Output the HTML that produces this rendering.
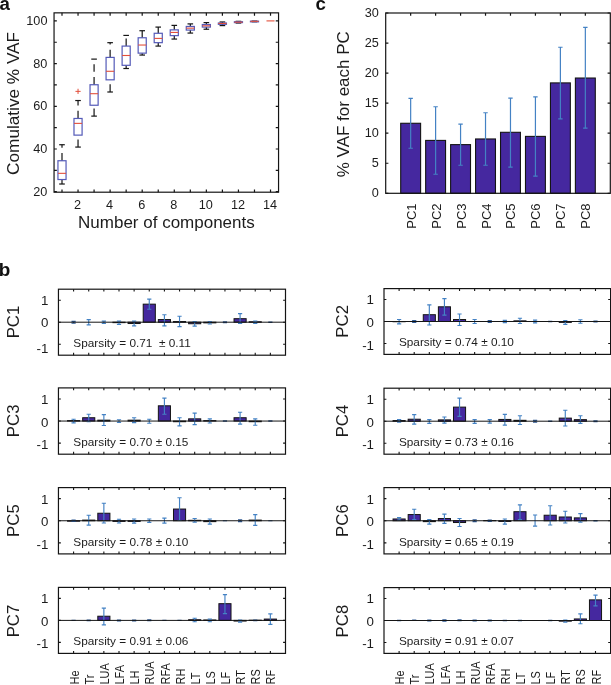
<!DOCTYPE html>
<html lang="en">
<head>
<meta charset="utf-8">
<title>PCA figure</title>
<style>
html,body{margin:0;padding:0;background:#fff;}
body{width:611px;height:685px;overflow:hidden;}
svg{display:block;font-family:"Liberation Sans", Arial, Helvetica, sans-serif;fill:#1c1c1c;}
</style>
</head>
<body>
<svg width="611" height="685" viewBox="0 0 611 685">
<rect width="611" height="685" fill="#fff"/>
<g id="panel-a">
<line x1="62" x2="62" y1="160.74" y2="144.73" stroke="#141414" stroke-width="1.2" stroke-dasharray="7.7 5.2"/>
<line x1="62" x2="62" y1="184.01" y2="179.53" stroke="#141414" stroke-width="1.2" stroke-dasharray="7.7 5.2"/>
<line x1="59.2" x2="64.8" y1="144.73" y2="144.73" stroke="#141414" stroke-width="1.2"/>
<line x1="59.2" x2="64.8" y1="184.01" y2="184.01" stroke="#141414" stroke-width="1.2"/>
<rect x="57.95" y="160.74" width="8.1" height="18.79" fill="none" stroke="#545ab8" stroke-width="1.2"/>
<line x1="57.95" x2="66.05" y1="173.34" y2="173.34" stroke="#e2503c" stroke-width="1.1"/>
<line x1="78.04" x2="78.04" y1="118.47" y2="100.54" stroke="#141414" stroke-width="1.2" stroke-dasharray="7.7 5.2"/>
<line x1="78.04" x2="78.04" y1="147.08" y2="135.12" stroke="#141414" stroke-width="1.2" stroke-dasharray="7.7 5.2"/>
<line x1="75.24" x2="80.84" y1="100.54" y2="100.54" stroke="#141414" stroke-width="1.2"/>
<line x1="75.24" x2="80.84" y1="147.08" y2="147.08" stroke="#141414" stroke-width="1.2"/>
<rect x="73.99" y="118.47" width="8.1" height="16.65" fill="none" stroke="#545ab8" stroke-width="1.2"/>
<line x1="73.99" x2="82.09" y1="123.38" y2="123.38" stroke="#e2503c" stroke-width="1.1"/>
<line x1="94.08" x2="94.08" y1="84.74" y2="59.12" stroke="#141414" stroke-width="1.2" stroke-dasharray="7.7 5.2"/>
<line x1="94.08" x2="94.08" y1="116.12" y2="105.23" stroke="#141414" stroke-width="1.2" stroke-dasharray="7.7 5.2"/>
<line x1="91.28" x2="96.88" y1="59.12" y2="59.12" stroke="#141414" stroke-width="1.2"/>
<line x1="91.28" x2="96.88" y1="116.12" y2="116.12" stroke="#141414" stroke-width="1.2"/>
<rect x="90.03" y="84.74" width="8.1" height="20.5" fill="none" stroke="#545ab8" stroke-width="1.2"/>
<line x1="90.03" x2="98.13" y1="93.7" y2="93.7" stroke="#e2503c" stroke-width="1.1"/>
<line x1="110.12" x2="110.12" y1="57.41" y2="42.68" stroke="#141414" stroke-width="1.2" stroke-dasharray="7.7 5.2"/>
<line x1="110.12" x2="110.12" y1="92" y2="79.83" stroke="#141414" stroke-width="1.2" stroke-dasharray="7.7 5.2"/>
<line x1="107.32" x2="112.92" y1="42.68" y2="42.68" stroke="#141414" stroke-width="1.2"/>
<line x1="107.32" x2="112.92" y1="92" y2="92" stroke="#141414" stroke-width="1.2"/>
<rect x="106.07" y="57.41" width="8.1" height="22.42" fill="none" stroke="#545ab8" stroke-width="1.2"/>
<line x1="106.07" x2="114.17" y1="71.29" y2="71.29" stroke="#e2503c" stroke-width="1.1"/>
<line x1="126.16" x2="126.16" y1="46.09" y2="35.42" stroke="#141414" stroke-width="1.2" stroke-dasharray="7.7 5.2"/>
<line x1="126.16" x2="126.16" y1="68.51" y2="65.31" stroke="#141414" stroke-width="1.2" stroke-dasharray="7.7 5.2"/>
<line x1="123.36" x2="128.96" y1="35.42" y2="35.42" stroke="#141414" stroke-width="1.2"/>
<line x1="123.36" x2="128.96" y1="68.51" y2="68.51" stroke="#141414" stroke-width="1.2"/>
<rect x="122.11" y="46.09" width="8.1" height="19.22" fill="none" stroke="#545ab8" stroke-width="1.2"/>
<line x1="122.11" x2="130.21" y1="55.49" y2="55.49" stroke="#e2503c" stroke-width="1.1"/>
<line x1="142.2" x2="142.2" y1="37.77" y2="30.72" stroke="#141414" stroke-width="1.2" stroke-dasharray="7.7 5.2"/>
<line x1="142.2" x2="142.2" y1="55.06" y2="53.14" stroke="#141414" stroke-width="1.2" stroke-dasharray="7.7 5.2"/>
<line x1="139.4" x2="145" y1="30.72" y2="30.72" stroke="#141414" stroke-width="1.2"/>
<line x1="139.4" x2="145" y1="55.06" y2="55.06" stroke="#141414" stroke-width="1.2"/>
<rect x="138.15" y="37.77" width="8.1" height="15.37" fill="none" stroke="#545ab8" stroke-width="1.2"/>
<line x1="138.15" x2="146.25" y1="45.03" y2="45.03" stroke="#e2503c" stroke-width="1.1"/>
<line x1="158.24" x2="158.24" y1="33.28" y2="27.09" stroke="#141414" stroke-width="1.2" stroke-dasharray="7.7 5.2"/>
<line x1="158.24" x2="158.24" y1="46.09" y2="42.68" stroke="#141414" stroke-width="1.2" stroke-dasharray="7.7 5.2"/>
<line x1="155.44" x2="161.04" y1="27.09" y2="27.09" stroke="#141414" stroke-width="1.2"/>
<line x1="155.44" x2="161.04" y1="46.09" y2="46.09" stroke="#141414" stroke-width="1.2"/>
<rect x="154.19" y="33.28" width="8.1" height="9.39" fill="none" stroke="#545ab8" stroke-width="1.2"/>
<line x1="154.19" x2="162.29" y1="38.41" y2="38.41" stroke="#e2503c" stroke-width="1.1"/>
<line x1="174.28" x2="174.28" y1="29.87" y2="25.38" stroke="#141414" stroke-width="1.2" stroke-dasharray="7.7 5.2"/>
<line x1="174.28" x2="174.28" y1="39.05" y2="35.63" stroke="#141414" stroke-width="1.2" stroke-dasharray="7.7 5.2"/>
<line x1="171.48" x2="177.08" y1="25.38" y2="25.38" stroke="#141414" stroke-width="1.2"/>
<line x1="171.48" x2="177.08" y1="39.05" y2="39.05" stroke="#141414" stroke-width="1.2"/>
<rect x="170.23" y="29.87" width="8.1" height="5.76" fill="none" stroke="#545ab8" stroke-width="1.2"/>
<line x1="170.23" x2="178.33" y1="32.43" y2="32.43" stroke="#e2503c" stroke-width="1.1"/>
<line x1="190.32" x2="190.32" y1="26.45" y2="23.89" stroke="#141414" stroke-width="1.2" stroke-dasharray="7.7 5.2"/>
<line x1="190.32" x2="190.32" y1="33.07" y2="30.08" stroke="#141414" stroke-width="1.2" stroke-dasharray="7.7 5.2"/>
<line x1="187.52" x2="193.12" y1="23.89" y2="23.89" stroke="#141414" stroke-width="1.2"/>
<line x1="187.52" x2="193.12" y1="33.07" y2="33.07" stroke="#141414" stroke-width="1.2"/>
<rect x="186.27" y="26.45" width="8.1" height="3.63" fill="none" stroke="#545ab8" stroke-width="1.2"/>
<line x1="186.27" x2="194.37" y1="28.16" y2="28.16" stroke="#e2503c" stroke-width="1.1"/>
<line x1="206.36" x2="206.36" y1="24.53" y2="22.61" stroke="#141414" stroke-width="1.2" stroke-dasharray="7.7 5.2"/>
<line x1="206.36" x2="206.36" y1="29.23" y2="27.09" stroke="#141414" stroke-width="1.2" stroke-dasharray="7.7 5.2"/>
<line x1="203.56" x2="209.16" y1="22.61" y2="22.61" stroke="#141414" stroke-width="1.2"/>
<line x1="203.56" x2="209.16" y1="29.23" y2="29.23" stroke="#141414" stroke-width="1.2"/>
<rect x="202.31" y="24.53" width="8.1" height="2.56" fill="none" stroke="#545ab8" stroke-width="1.2"/>
<line x1="202.31" x2="210.41" y1="25.81" y2="25.81" stroke="#e2503c" stroke-width="1.1"/>
<line x1="222.4" x2="222.4" y1="23.03" y2="21.97" stroke="#141414" stroke-width="1.2" stroke-dasharray="7.7 5.2"/>
<line x1="222.4" x2="222.4" y1="25.6" y2="24.32" stroke="#141414" stroke-width="1.2" stroke-dasharray="7.7 5.2"/>
<line x1="219.6" x2="225.2" y1="21.97" y2="21.97" stroke="#141414" stroke-width="1.2"/>
<line x1="219.6" x2="225.2" y1="25.6" y2="25.6" stroke="#141414" stroke-width="1.2"/>
<rect x="218.35" y="23.03" width="8.1" height="1.28" fill="none" stroke="#545ab8" stroke-width="1.2"/>
<line x1="218.35" x2="226.45" y1="23.46" y2="23.46" stroke="#e2503c" stroke-width="1.1"/>
<line x1="238.44" x2="238.44" y1="21.75" y2="21.33" stroke="#141414" stroke-width="1.2" stroke-dasharray="7.7 5.2"/>
<line x1="238.44" x2="238.44" y1="23.03" y2="22.61" stroke="#141414" stroke-width="1.2" stroke-dasharray="7.7 5.2"/>
<line x1="235.64" x2="241.24" y1="21.33" y2="21.33" stroke="#141414" stroke-width="1.2"/>
<line x1="235.64" x2="241.24" y1="23.03" y2="23.03" stroke="#141414" stroke-width="1.2"/>
<rect x="234.39" y="21.75" width="8.1" height="0.85" fill="none" stroke="#545ab8" stroke-width="1.2"/>
<line x1="234.39" x2="242.49" y1="22.18" y2="22.18" stroke="#e2503c" stroke-width="1.1"/>
<line x1="254.48" x2="254.48" y1="21.22" y2="21.11" stroke="#141414" stroke-width="1.2" stroke-dasharray="7.7 5.2"/>
<line x1="254.48" x2="254.48" y1="21.75" y2="21.54" stroke="#141414" stroke-width="1.2" stroke-dasharray="7.7 5.2"/>
<line x1="251.68" x2="257.28" y1="21.11" y2="21.11" stroke="#141414" stroke-width="1.2"/>
<line x1="251.68" x2="257.28" y1="21.75" y2="21.75" stroke="#141414" stroke-width="1.2"/>
<rect x="250.43" y="21.22" width="8.1" height="0.6" fill="none" stroke="#545ab8" stroke-width="1.2"/>
<line x1="250.43" x2="258.53" y1="21.33" y2="21.33" stroke="#e2503c" stroke-width="1.1"/>
<line x1="266.47" x2="274.57" y1="20.9" y2="20.9" stroke="#e2503c" stroke-width="1.1"/>
<path d="M75.44 91.36H80.64M78.04 88.76V93.95" stroke="#e2503c" stroke-width="1" fill="none"/>
<rect x="54.05" y="12.85" width="224.5" height="179.35" fill="none" stroke="#141414" stroke-width="1.2"/>
<path d="M62 192.2v-2.8M62 12.85v2.8M78.04 192.2v-2.8M78.04 12.85v2.8M94.08 192.2v-2.8M94.08 12.85v2.8M110.12 192.2v-2.8M110.12 12.85v2.8M126.16 192.2v-2.8M126.16 12.85v2.8M142.2 192.2v-2.8M142.2 12.85v2.8M158.24 192.2v-2.8M158.24 12.85v2.8M174.28 192.2v-2.8M174.28 12.85v2.8M190.32 192.2v-2.8M190.32 12.85v2.8M206.36 192.2v-2.8M206.36 12.85v2.8M222.4 192.2v-2.8M222.4 12.85v2.8M238.44 192.2v-2.8M238.44 12.85v2.8M254.48 192.2v-2.8M254.48 12.85v2.8M270.52 192.2v-2.8M270.52 12.85v2.8M54.05 191.7h2.8M278.55 191.7h-2.8M54.05 170.35h2.8M278.55 170.35h-2.8M54.05 149h2.8M278.55 149h-2.8M54.05 127.65h2.8M278.55 127.65h-2.8M54.05 106.3h2.8M278.55 106.3h-2.8M54.05 84.95h2.8M278.55 84.95h-2.8M54.05 63.6h2.8M278.55 63.6h-2.8M54.05 42.25h2.8M278.55 42.25h-2.8M54.05 20.9h2.8M278.55 20.9h-2.8" stroke="#141414" stroke-width="1.2" fill="none"/>
<text x="47.45" y="195.7" font-size="12.7" text-anchor="end">20</text>
<text x="47.45" y="153" font-size="12.7" text-anchor="end">40</text>
<text x="47.45" y="110.3" font-size="12.7" text-anchor="end">60</text>
<text x="47.45" y="67.6" font-size="12.7" text-anchor="end">80</text>
<text x="47.45" y="24.9" font-size="12.7" text-anchor="end">100</text>
<text x="77.54" y="208.8" font-size="12.7" text-anchor="middle">2</text>
<text x="109.62" y="208.8" font-size="12.7" text-anchor="middle">4</text>
<text x="141.7" y="208.8" font-size="12.7" text-anchor="middle">6</text>
<text x="173.78" y="208.8" font-size="12.7" text-anchor="middle">8</text>
<text x="205.86" y="208.8" font-size="12.7" text-anchor="middle">10</text>
<text x="237.94" y="208.8" font-size="12.7" text-anchor="middle">12</text>
<text x="270.02" y="208.8" font-size="12.7" text-anchor="middle">14</text>
<text transform="translate(19.0 103.4) rotate(-90)" font-size="17.2" text-anchor="middle">Comulative % VAF</text>
<text x="166.4" y="228.4" font-size="17.0" text-anchor="middle">Number of components</text>
</g>
<g id="panel-c">
<path d="M410.66 193.3v-2.7M410.66 13v2.7M435.61 193.3v-2.7M435.61 13v2.7M460.57 193.3v-2.7M460.57 13v2.7M485.52 193.3v-2.7M485.52 13v2.7M510.48 193.3v-2.7M510.48 13v2.7M535.43 193.3v-2.7M535.43 13v2.7M560.39 193.3v-2.7M560.39 13v2.7M585.34 193.3v-2.7M585.34 13v2.7M385.7 193.3h2.7M610.3 193.3h-2.7M385.7 163.25h2.7M610.3 163.25h-2.7M385.7 133.2h2.7M610.3 133.2h-2.7M385.7 103.15h2.7M610.3 103.15h-2.7M385.7 73.1h2.7M610.3 73.1h-2.7M385.7 43.05h2.7M610.3 43.05h-2.7M385.7 13h2.7M610.3 13h-2.7" stroke="#141414" stroke-width="1.2" fill="none"/>
<rect x="400.71" y="123.28" width="19.9" height="70.02" fill="#45289f" stroke="#141414" stroke-width="1.1"/>
<rect x="425.66" y="140.41" width="19.9" height="52.89" fill="#45289f" stroke="#141414" stroke-width="1.1"/>
<rect x="450.62" y="144.62" width="19.9" height="48.68" fill="#45289f" stroke="#141414" stroke-width="1.1"/>
<rect x="475.57" y="138.97" width="19.9" height="54.33" fill="#45289f" stroke="#141414" stroke-width="1.1"/>
<rect x="500.53" y="132.3" width="19.9" height="61" fill="#45289f" stroke="#141414" stroke-width="1.1"/>
<rect x="525.48" y="136.39" width="19.9" height="56.91" fill="#45289f" stroke="#141414" stroke-width="1.1"/>
<rect x="550.44" y="82.9" width="19.9" height="110.4" fill="#45289f" stroke="#141414" stroke-width="1.1"/>
<rect x="575.39" y="78.03" width="19.9" height="115.27" fill="#45289f" stroke="#141414" stroke-width="1.1"/>
<path d="M410.66 98.46V148.23M408.46 98.46h4.4M408.46 148.23h4.4" stroke="#4482c4" stroke-width="1.2" fill="none"/>
<path d="M435.61 106.76V174.25M433.41 106.76h4.4M433.41 174.25h4.4" stroke="#4482c4" stroke-width="1.2" fill="none"/>
<path d="M460.57 124.19V165.23M458.37 124.19h4.4M458.37 165.23h4.4" stroke="#4482c4" stroke-width="1.2" fill="none"/>
<path d="M485.52 112.77V165.23M483.32 112.77h4.4M483.32 165.23h4.4" stroke="#4482c4" stroke-width="1.2" fill="none"/>
<path d="M510.48 98.04V167.16M508.28 98.04h4.4M508.28 167.16h4.4" stroke="#4482c4" stroke-width="1.2" fill="none"/>
<path d="M535.43 96.96V176.11M533.23 96.96h4.4M533.23 176.11h4.4" stroke="#4482c4" stroke-width="1.2" fill="none"/>
<path d="M560.39 47.26V118.78M558.19 47.26h4.4M558.19 118.78h4.4" stroke="#4482c4" stroke-width="1.2" fill="none"/>
<path d="M585.34 27.42V128.03M583.14 27.42h4.4M583.14 128.03h4.4" stroke="#4482c4" stroke-width="1.2" fill="none"/>
<rect x="385.7" y="13.0" width="224.6" height="180.3" fill="none" stroke="#141414" stroke-width="1.2"/>
<text x="378.8" y="197.4" font-size="12.7" text-anchor="end">0</text>
<text x="378.8" y="167.35" font-size="12.7" text-anchor="end">5</text>
<text x="378.8" y="137.3" font-size="12.7" text-anchor="end">10</text>
<text x="378.8" y="107.25" font-size="12.7" text-anchor="end">15</text>
<text x="378.8" y="77.2" font-size="12.7" text-anchor="end">20</text>
<text x="378.8" y="47.15" font-size="12.7" text-anchor="end">25</text>
<text x="378.8" y="17.1" font-size="12.7" text-anchor="end">30</text>
<text transform="translate(415.66 228.7) rotate(-90)" font-size="13">PC1</text>
<text transform="translate(440.61 228.7) rotate(-90)" font-size="13">PC2</text>
<text transform="translate(465.57 228.7) rotate(-90)" font-size="13">PC3</text>
<text transform="translate(490.52 228.7) rotate(-90)" font-size="13">PC4</text>
<text transform="translate(515.48 228.7) rotate(-90)" font-size="13">PC5</text>
<text transform="translate(540.43 228.7) rotate(-90)" font-size="13">PC6</text>
<text transform="translate(565.39 228.7) rotate(-90)" font-size="13">PC7</text>
<text transform="translate(590.34 228.7) rotate(-90)" font-size="13">PC8</text>
<text transform="translate(349 104.2) rotate(-90)" font-size="17" text-anchor="middle">% VAF for each PC</text>
</g>
<g id="panel-b">
<g id="pc1">
<rect x="67.53" y="322.2" width="12.11" height="0" fill="#45289f" stroke="#141414" stroke-width="1"/>
<rect x="82.67" y="322.2" width="12.11" height="0" fill="#45289f" stroke="#141414" stroke-width="1"/>
<rect x="97.81" y="322.2" width="12.11" height="0" fill="#45289f" stroke="#141414" stroke-width="1"/>
<rect x="112.94" y="322.2" width="12.11" height="0.44" fill="#45289f" stroke="#141414" stroke-width="1"/>
<rect x="128.08" y="322.2" width="12.11" height="1.32" fill="#45289f" stroke="#141414" stroke-width="1"/>
<rect x="143.22" y="304.16" width="12.11" height="18.04" fill="#45289f" stroke="#141414" stroke-width="1"/>
<rect x="158.35" y="319.56" width="12.11" height="2.64" fill="#45289f" stroke="#141414" stroke-width="1"/>
<rect x="173.49" y="321.54" width="12.11" height="0.66" fill="#45289f" stroke="#141414" stroke-width="1"/>
<rect x="188.63" y="322.2" width="12.11" height="1.54" fill="#45289f" stroke="#141414" stroke-width="1"/>
<rect x="203.76" y="322.2" width="12.11" height="0.66" fill="#45289f" stroke="#141414" stroke-width="1"/>
<rect x="218.9" y="322.2" width="12.11" height="0" fill="#45289f" stroke="#141414" stroke-width="1"/>
<rect x="234.04" y="318.68" width="12.11" height="3.52" fill="#45289f" stroke="#141414" stroke-width="1"/>
<rect x="249.17" y="321.76" width="12.11" height="0.44" fill="#45289f" stroke="#141414" stroke-width="1"/>
<rect x="264.31" y="322.2" width="12.11" height="0" fill="#45289f" stroke="#141414" stroke-width="1"/>
<path d="M88.72 319.56V324.84M86.62 319.56h4.2M86.62 324.84h4.2M103.86 321.1V323.3M101.76 321.1h4.2M101.76 323.3h4.2M119 321.1V324.4M116.9 321.1h4.2M116.9 324.4h4.2M134.13 321.1V325.94M132.03 321.1h4.2M132.03 325.94h4.2M149.27 299.1V309.22M147.17 299.1h4.2M147.17 309.22h4.2M164.41 314.72V325.94M162.31 314.72h4.2M162.31 325.94h4.2M179.54 316.26V326.6M177.44 316.26h4.2M177.44 326.6h4.2M194.68 321.54V326.16M192.58 321.54h4.2M192.58 326.16h4.2M209.82 321.54V323.96M207.72 321.54h4.2M207.72 323.96h4.2M240.09 313.62V323.3M237.99 313.62h4.2M237.99 323.3h4.2M255.23 321.1V323.3M253.13 321.1h4.2M253.13 323.3h4.2" stroke="#4482c4" stroke-width="1.15" fill="none"/>
<path d="M73.59 321.32V323.08M71.49 321.32h4.2M71.49 323.08h4.2M224.95 321.76V322.64M222.85 321.76h4.2M222.85 322.64h4.2M270.36 321.98V322.42M268.26 321.98h4.2M268.26 322.42h4.2" stroke="#2f5a94" stroke-width="1.15" fill="none"/>
<line x1="58.45" x2="285.5" y1="322.2" y2="322.2" stroke="#141414" stroke-width="1"/>
<rect x="58.45" y="289.2" width="227.05" height="66" fill="none" stroke="#141414" stroke-width="1.2"/>
<path d="M73.59 355.2v-2.4M73.59 289.2v2.4M88.72 355.2v-2.4M88.72 289.2v2.4M103.86 355.2v-2.4M103.86 289.2v2.4M119 355.2v-2.4M119 289.2v2.4M134.13 355.2v-2.4M134.13 289.2v2.4M149.27 355.2v-2.4M149.27 289.2v2.4M164.41 355.2v-2.4M164.41 289.2v2.4M179.54 355.2v-2.4M179.54 289.2v2.4M194.68 355.2v-2.4M194.68 289.2v2.4M209.82 355.2v-2.4M209.82 289.2v2.4M224.95 355.2v-2.4M224.95 289.2v2.4M240.09 355.2v-2.4M240.09 289.2v2.4M255.23 355.2v-2.4M255.23 289.2v2.4M270.36 355.2v-2.4M270.36 289.2v2.4M58.45 344.2h2.4M285.5 344.2h-2.4M58.45 322.2h2.4M285.5 322.2h-2.4M58.45 300.2h2.4M285.5 300.2h-2.4" stroke="#141414" stroke-width="1.1" fill="none"/>
<text x="48.45" y="305.35" font-size="13.3" text-anchor="end">1</text>
<text x="48.45" y="327.4" font-size="13.3" text-anchor="end">0</text>
<text x="48.45" y="352.55" font-size="13.3" text-anchor="end">-1</text>
<text transform="translate(19 322) rotate(-90)" font-size="16.8" text-anchor="middle">PC1</text>
<text x="73.35" y="347" font-size="11.8">Sparsity = 0.71  ± 0.11</text>
</g>
<g id="pc2">
<rect x="393.06" y="321.5" width="12.09" height="0.22" fill="#45289f" stroke="#141414" stroke-width="1"/>
<rect x="408.17" y="321.5" width="12.09" height="0" fill="#45289f" stroke="#141414" stroke-width="1"/>
<rect x="423.28" y="314.7" width="12.09" height="6.8" fill="#45289f" stroke="#141414" stroke-width="1"/>
<rect x="438.38" y="306.8" width="12.09" height="14.7" fill="#45289f" stroke="#141414" stroke-width="1"/>
<rect x="453.49" y="319.53" width="12.09" height="1.97" fill="#45289f" stroke="#141414" stroke-width="1"/>
<rect x="468.6" y="321.5" width="12.09" height="0" fill="#45289f" stroke="#141414" stroke-width="1"/>
<rect x="483.7" y="321.5" width="12.09" height="0" fill="#45289f" stroke="#141414" stroke-width="1"/>
<rect x="498.81" y="321.5" width="12.09" height="0" fill="#45289f" stroke="#141414" stroke-width="1"/>
<rect x="513.92" y="320.84" width="12.09" height="0.66" fill="#45289f" stroke="#141414" stroke-width="1"/>
<rect x="529.02" y="321.5" width="12.09" height="0" fill="#45289f" stroke="#141414" stroke-width="1"/>
<rect x="544.13" y="321.5" width="12.09" height="0" fill="#45289f" stroke="#141414" stroke-width="1"/>
<rect x="559.24" y="321.5" width="12.09" height="0.88" fill="#45289f" stroke="#141414" stroke-width="1"/>
<rect x="574.34" y="321.5" width="12.09" height="0" fill="#45289f" stroke="#141414" stroke-width="1"/>
<rect x="589.45" y="321.5" width="12.09" height="0" fill="#45289f" stroke="#141414" stroke-width="1"/>
<path d="M399.11 319.53V323.91M397.01 319.53h4.2M397.01 323.91h4.2M429.32 304.83V325.01M427.22 304.83h4.2M427.22 325.01h4.2M444.43 298.69V315.14M442.33 298.69h4.2M442.33 315.14h4.2M459.53 314.04V325.45M457.43 314.04h4.2M457.43 325.45h4.2M474.64 319.53V323.47M472.54 319.53h4.2M472.54 323.47h4.2M504.85 320.4V322.6M502.75 320.4h4.2M502.75 322.6h4.2M519.96 318.21V323.47M517.86 318.21h4.2M517.86 323.47h4.2M535.07 320.18V322.82M532.97 320.18h4.2M532.97 322.82h4.2M565.28 320.62V324.35M563.18 320.62h4.2M563.18 324.35h4.2M580.39 319.75V323.25M578.29 319.75h4.2M578.29 323.25h4.2" stroke="#4482c4" stroke-width="1.15" fill="none"/>
<path d="M414.21 320.62V322.38M412.11 320.62h4.2M412.11 322.38h4.2M489.75 320.62V322.38M487.65 320.62h4.2M487.65 322.38h4.2M550.17 321.28V321.72M548.07 321.28h4.2M548.07 321.72h4.2M595.49 321.06V321.94M593.39 321.06h4.2M593.39 321.94h4.2" stroke="#2f5a94" stroke-width="1.15" fill="none"/>
<line x1="384" x2="610.6" y1="321.5" y2="321.5" stroke="#141414" stroke-width="1"/>
<rect x="384" y="288.6" width="226.6" height="65.8" fill="none" stroke="#141414" stroke-width="1.2"/>
<path d="M399.11 354.4v-2.4M399.11 288.6v2.4M414.21 354.4v-2.4M414.21 288.6v2.4M429.32 354.4v-2.4M429.32 288.6v2.4M444.43 354.4v-2.4M444.43 288.6v2.4M459.53 354.4v-2.4M459.53 288.6v2.4M474.64 354.4v-2.4M474.64 288.6v2.4M489.75 354.4v-2.4M489.75 288.6v2.4M504.85 354.4v-2.4M504.85 288.6v2.4M519.96 354.4v-2.4M519.96 288.6v2.4M535.07 354.4v-2.4M535.07 288.6v2.4M550.17 354.4v-2.4M550.17 288.6v2.4M565.28 354.4v-2.4M565.28 288.6v2.4M580.39 354.4v-2.4M580.39 288.6v2.4M595.49 354.4v-2.4M595.49 288.6v2.4M384 343.43h2.4M610.6 343.43h-2.4M384 321.5h2.4M610.6 321.5h-2.4M384 299.57h2.4M610.6 299.57h-2.4" stroke="#141414" stroke-width="1.1" fill="none"/>
<text x="374" y="303.75" font-size="13.3" text-anchor="end">1</text>
<text x="374" y="326.95" font-size="13.3" text-anchor="end">0</text>
<text x="374" y="349.55" font-size="13.3" text-anchor="end">-1</text>
<text transform="translate(347.7 321.3) rotate(-90)" font-size="16.8" text-anchor="middle">PC2</text>
<text x="398.9" y="346.2" font-size="11.8">Sparsity = 0.74 ± 0.10</text>
</g>
<g id="pc3">
<rect x="67.53" y="420.61" width="12.11" height="0.44" fill="#45289f" stroke="#141414" stroke-width="1"/>
<rect x="82.67" y="417.73" width="12.11" height="3.31" fill="#45289f" stroke="#141414" stroke-width="1"/>
<rect x="97.81" y="420.17" width="12.11" height="0.88" fill="#45289f" stroke="#141414" stroke-width="1"/>
<rect x="112.94" y="421.05" width="12.11" height="0" fill="#45289f" stroke="#141414" stroke-width="1"/>
<rect x="128.08" y="420.17" width="12.11" height="0.88" fill="#45289f" stroke="#141414" stroke-width="1"/>
<rect x="143.22" y="421.05" width="12.11" height="0" fill="#45289f" stroke="#141414" stroke-width="1"/>
<rect x="158.35" y="405.8" width="12.11" height="15.25" fill="#45289f" stroke="#141414" stroke-width="1"/>
<rect x="173.49" y="421.05" width="12.11" height="0.66" fill="#45289f" stroke="#141414" stroke-width="1"/>
<rect x="188.63" y="418.84" width="12.11" height="2.21" fill="#45289f" stroke="#141414" stroke-width="1"/>
<rect x="203.76" y="420.61" width="12.11" height="0.44" fill="#45289f" stroke="#141414" stroke-width="1"/>
<rect x="218.9" y="421.05" width="12.11" height="0" fill="#45289f" stroke="#141414" stroke-width="1"/>
<rect x="234.04" y="417.73" width="12.11" height="3.31" fill="#45289f" stroke="#141414" stroke-width="1"/>
<rect x="249.17" y="421.05" width="12.11" height="0.66" fill="#45289f" stroke="#141414" stroke-width="1"/>
<rect x="264.31" y="421.05" width="12.11" height="0" fill="#45289f" stroke="#141414" stroke-width="1"/>
<path d="M73.59 419.28V422.82M71.49 419.28h4.2M71.49 422.82h4.2M88.72 414.2V421.71M86.62 414.2h4.2M86.62 421.71h4.2M103.86 414.64V425.47M101.76 414.64h4.2M101.76 425.47h4.2M119 419.72V422.38M116.9 419.72h4.2M116.9 422.38h4.2M134.13 417.73V422.6M132.03 417.73h4.2M132.03 422.6h4.2M149.27 419.28V423.26M147.17 419.28h4.2M147.17 423.26h4.2M164.41 398.07V414.2M162.31 398.07h4.2M162.31 414.2h4.2M179.54 417.73V425.91M177.44 417.73h4.2M177.44 425.91h4.2M194.68 413.09V424.59M192.58 413.09h4.2M192.58 424.59h4.2M209.82 418.84V423.04M207.72 418.84h4.2M207.72 423.04h4.2M240.09 412.21V424.14M237.99 412.21h4.2M237.99 424.14h4.2M255.23 418.84V425.25M253.13 418.84h4.2M253.13 425.25h4.2" stroke="#4482c4" stroke-width="1.15" fill="none"/>
<path d="M224.95 420.83V421.27M222.85 420.83h4.2M222.85 421.27h4.2M270.36 420.83V421.27M268.26 420.83h4.2M268.26 421.27h4.2" stroke="#2f5a94" stroke-width="1.15" fill="none"/>
<line x1="58.45" x2="285.5" y1="421.05" y2="421.05" stroke="#141414" stroke-width="1"/>
<rect x="58.45" y="387.9" width="227.05" height="66.3" fill="none" stroke="#141414" stroke-width="1.2"/>
<path d="M73.59 454.2v-2.4M73.59 387.9v2.4M88.72 454.2v-2.4M88.72 387.9v2.4M103.86 454.2v-2.4M103.86 387.9v2.4M119 454.2v-2.4M119 387.9v2.4M134.13 454.2v-2.4M134.13 387.9v2.4M149.27 454.2v-2.4M149.27 387.9v2.4M164.41 454.2v-2.4M164.41 387.9v2.4M179.54 454.2v-2.4M179.54 387.9v2.4M194.68 454.2v-2.4M194.68 387.9v2.4M209.82 454.2v-2.4M209.82 387.9v2.4M224.95 454.2v-2.4M224.95 387.9v2.4M240.09 454.2v-2.4M240.09 387.9v2.4M255.23 454.2v-2.4M255.23 387.9v2.4M270.36 454.2v-2.4M270.36 387.9v2.4M58.45 443.15h2.4M285.5 443.15h-2.4M58.45 421.05h2.4M285.5 421.05h-2.4M58.45 398.95h2.4M285.5 398.95h-2.4" stroke="#141414" stroke-width="1.1" fill="none"/>
<text x="48.45" y="404.35" font-size="13.3" text-anchor="end">1</text>
<text x="48.45" y="426.55" font-size="13.3" text-anchor="end">0</text>
<text x="48.45" y="448.75" font-size="13.3" text-anchor="end">-1</text>
<text transform="translate(19 420.85) rotate(-90)" font-size="16.8" text-anchor="middle">PC3</text>
<text x="73.35" y="446" font-size="11.8">Sparsity = 0.70 ± 0.15</text>
</g>
<g id="pc4">
<rect x="393.06" y="420.54" width="12.09" height="0.66" fill="#45289f" stroke="#141414" stroke-width="1"/>
<rect x="408.17" y="419.22" width="12.09" height="1.98" fill="#45289f" stroke="#141414" stroke-width="1"/>
<rect x="423.28" y="421.2" width="12.09" height="0" fill="#45289f" stroke="#141414" stroke-width="1"/>
<rect x="438.38" y="419.88" width="12.09" height="1.32" fill="#45289f" stroke="#141414" stroke-width="1"/>
<rect x="453.49" y="407.12" width="12.09" height="14.08" fill="#45289f" stroke="#141414" stroke-width="1"/>
<rect x="468.6" y="421.2" width="12.09" height="0" fill="#45289f" stroke="#141414" stroke-width="1"/>
<rect x="483.7" y="421.2" width="12.09" height="0" fill="#45289f" stroke="#141414" stroke-width="1"/>
<rect x="498.81" y="419.44" width="12.09" height="1.76" fill="#45289f" stroke="#141414" stroke-width="1"/>
<rect x="513.92" y="420.32" width="12.09" height="0.88" fill="#45289f" stroke="#141414" stroke-width="1"/>
<rect x="529.02" y="421.2" width="12.09" height="0" fill="#45289f" stroke="#141414" stroke-width="1"/>
<rect x="544.13" y="421.2" width="12.09" height="0" fill="#45289f" stroke="#141414" stroke-width="1"/>
<rect x="559.24" y="418.12" width="12.09" height="3.08" fill="#45289f" stroke="#141414" stroke-width="1"/>
<rect x="574.34" y="419.66" width="12.09" height="1.54" fill="#45289f" stroke="#141414" stroke-width="1"/>
<rect x="589.45" y="421.2" width="12.09" height="0" fill="#45289f" stroke="#141414" stroke-width="1"/>
<path d="M399.11 419.66V422.08M397.01 419.66h4.2M397.01 422.08h4.2M414.21 414.6V424.06M412.11 414.6h4.2M412.11 424.06h4.2M429.32 419.66V423.4M427.22 419.66h4.2M427.22 423.4h4.2M444.43 417.02V423.18M442.33 417.02h4.2M442.33 423.18h4.2M459.53 398.1V416.36M457.43 398.1h4.2M457.43 416.36h4.2M474.64 419.66V423.4M472.54 419.66h4.2M472.54 423.4h4.2M489.75 419.66V423.18M487.65 419.66h4.2M487.65 423.18h4.2M504.85 414.38V425.16M502.75 414.38h4.2M502.75 425.16h4.2M519.96 415.7V424.5M517.86 415.7h4.2M517.86 424.5h4.2M565.28 410.2V426.04M563.18 410.2h4.2M563.18 426.04h4.2M580.39 415.7V423.4M578.29 415.7h4.2M578.29 423.4h4.2" stroke="#4482c4" stroke-width="1.15" fill="none"/>
<path d="M535.07 420.32V422.08M532.97 420.32h4.2M532.97 422.08h4.2M550.17 420.98V421.42M548.07 420.98h4.2M548.07 421.42h4.2M595.49 420.76V421.64M593.39 420.76h4.2M593.39 421.64h4.2" stroke="#2f5a94" stroke-width="1.15" fill="none"/>
<line x1="384" x2="610.6" y1="421.2" y2="421.2" stroke="#141414" stroke-width="1"/>
<rect x="384" y="388.2" width="226.6" height="66" fill="none" stroke="#141414" stroke-width="1.2"/>
<path d="M399.11 454.2v-2.4M399.11 388.2v2.4M414.21 454.2v-2.4M414.21 388.2v2.4M429.32 454.2v-2.4M429.32 388.2v2.4M444.43 454.2v-2.4M444.43 388.2v2.4M459.53 454.2v-2.4M459.53 388.2v2.4M474.64 454.2v-2.4M474.64 388.2v2.4M489.75 454.2v-2.4M489.75 388.2v2.4M504.85 454.2v-2.4M504.85 388.2v2.4M519.96 454.2v-2.4M519.96 388.2v2.4M535.07 454.2v-2.4M535.07 388.2v2.4M550.17 454.2v-2.4M550.17 388.2v2.4M565.28 454.2v-2.4M565.28 388.2v2.4M580.39 454.2v-2.4M580.39 388.2v2.4M595.49 454.2v-2.4M595.49 388.2v2.4M384 443.2h2.4M610.6 443.2h-2.4M384 421.2h2.4M610.6 421.2h-2.4M384 399.2h2.4M610.6 399.2h-2.4" stroke="#141414" stroke-width="1.1" fill="none"/>
<text x="374" y="404.35" font-size="13.3" text-anchor="end">1</text>
<text x="374" y="426.55" font-size="13.3" text-anchor="end">0</text>
<text x="374" y="449.25" font-size="13.3" text-anchor="end">-1</text>
<text transform="translate(347.7 421) rotate(-90)" font-size="16.8" text-anchor="middle">PC4</text>
<text x="398.9" y="446" font-size="11.8">Sparsity = 0.73 ± 0.16</text>
</g>
<g id="pc5">
<rect x="67.53" y="520.75" width="12.11" height="0.44" fill="#45289f" stroke="#141414" stroke-width="1"/>
<rect x="82.67" y="520.09" width="12.11" height="0.66" fill="#45289f" stroke="#141414" stroke-width="1"/>
<rect x="97.81" y="513.24" width="12.11" height="7.51" fill="#45289f" stroke="#141414" stroke-width="1"/>
<rect x="112.94" y="520.75" width="12.11" height="0.66" fill="#45289f" stroke="#141414" stroke-width="1"/>
<rect x="128.08" y="520.75" width="12.11" height="0.66" fill="#45289f" stroke="#141414" stroke-width="1"/>
<rect x="143.22" y="520.75" width="12.11" height="0" fill="#45289f" stroke="#141414" stroke-width="1"/>
<rect x="158.35" y="520.75" width="12.11" height="0" fill="#45289f" stroke="#141414" stroke-width="1"/>
<rect x="173.49" y="509.04" width="12.11" height="11.71" fill="#45289f" stroke="#141414" stroke-width="1"/>
<rect x="188.63" y="520.31" width="12.11" height="0.44" fill="#45289f" stroke="#141414" stroke-width="1"/>
<rect x="203.76" y="520.75" width="12.11" height="0.88" fill="#45289f" stroke="#141414" stroke-width="1"/>
<rect x="218.9" y="520.75" width="12.11" height="0" fill="#45289f" stroke="#141414" stroke-width="1"/>
<rect x="234.04" y="520.75" width="12.11" height="0" fill="#45289f" stroke="#141414" stroke-width="1"/>
<rect x="249.17" y="520.09" width="12.11" height="0.66" fill="#45289f" stroke="#141414" stroke-width="1"/>
<rect x="264.31" y="520.75" width="12.11" height="0" fill="#45289f" stroke="#141414" stroke-width="1"/>
<path d="M88.72 515.23V525.17M86.62 515.23h4.2M86.62 525.17h4.2M103.86 503.29V522.96M101.76 503.29h4.2M101.76 522.96h4.2M119 519.2V522.96M116.9 519.2h4.2M116.9 522.96h4.2M134.13 518.98V523.18M132.03 518.98h4.2M132.03 523.18h4.2M149.27 518.98V522.3M147.17 518.98h4.2M147.17 522.3h4.2M164.41 518.1V523.18M162.31 518.1h4.2M162.31 523.18h4.2M179.54 497.77V520.53M177.44 497.77h4.2M177.44 520.53h4.2M194.68 518.54V522.08M192.58 518.54h4.2M192.58 522.08h4.2M209.82 518.98V524.06M207.72 518.98h4.2M207.72 524.06h4.2M255.23 514.56V525.39M253.13 514.56h4.2M253.13 525.39h4.2" stroke="#4482c4" stroke-width="1.15" fill="none"/>
<path d="M73.59 520.09V521.41M71.49 520.09h4.2M71.49 521.41h4.2M224.95 520.75V520.75M222.85 520.75h4.2M222.85 520.75h4.2M240.09 519.87V521.63M237.99 519.87h4.2M237.99 521.63h4.2M270.36 520.75V520.75M268.26 520.75h4.2M268.26 520.75h4.2" stroke="#2f5a94" stroke-width="1.15" fill="none"/>
<line x1="58.45" x2="285.5" y1="520.75" y2="520.75" stroke="#141414" stroke-width="1"/>
<rect x="58.45" y="487.6" width="227.05" height="66.3" fill="none" stroke="#141414" stroke-width="1.2"/>
<path d="M73.59 553.9v-2.4M73.59 487.6v2.4M88.72 553.9v-2.4M88.72 487.6v2.4M103.86 553.9v-2.4M103.86 487.6v2.4M119 553.9v-2.4M119 487.6v2.4M134.13 553.9v-2.4M134.13 487.6v2.4M149.27 553.9v-2.4M149.27 487.6v2.4M164.41 553.9v-2.4M164.41 487.6v2.4M179.54 553.9v-2.4M179.54 487.6v2.4M194.68 553.9v-2.4M194.68 487.6v2.4M209.82 553.9v-2.4M209.82 487.6v2.4M224.95 553.9v-2.4M224.95 487.6v2.4M240.09 553.9v-2.4M240.09 487.6v2.4M255.23 553.9v-2.4M255.23 487.6v2.4M270.36 553.9v-2.4M270.36 487.6v2.4M58.45 542.85h2.4M285.5 542.85h-2.4M58.45 520.75h2.4M285.5 520.75h-2.4M58.45 498.65h2.4M285.5 498.65h-2.4" stroke="#141414" stroke-width="1.1" fill="none"/>
<text x="48.45" y="503.75" font-size="13.3" text-anchor="end">1</text>
<text x="48.45" y="526.35" font-size="13.3" text-anchor="end">0</text>
<text x="48.45" y="548.55" font-size="13.3" text-anchor="end">-1</text>
<text transform="translate(19 520.55) rotate(-90)" font-size="16.8" text-anchor="middle">PC5</text>
<text x="73.35" y="545.7" font-size="11.8">Sparsity = 0.78 ± 0.10</text>
</g>
<g id="pc6">
<rect x="393.06" y="518.98" width="12.09" height="1.77" fill="#45289f" stroke="#141414" stroke-width="1"/>
<rect x="408.17" y="514.56" width="12.09" height="6.19" fill="#45289f" stroke="#141414" stroke-width="1"/>
<rect x="423.28" y="520.75" width="12.09" height="0.88" fill="#45289f" stroke="#141414" stroke-width="1"/>
<rect x="438.38" y="518.54" width="12.09" height="2.21" fill="#45289f" stroke="#141414" stroke-width="1"/>
<rect x="453.49" y="520.75" width="12.09" height="1.77" fill="#45289f" stroke="#141414" stroke-width="1"/>
<rect x="468.6" y="520.75" width="12.09" height="0" fill="#45289f" stroke="#141414" stroke-width="1"/>
<rect x="483.7" y="520.53" width="12.09" height="0.22" fill="#45289f" stroke="#141414" stroke-width="1"/>
<rect x="498.81" y="520.75" width="12.09" height="0.66" fill="#45289f" stroke="#141414" stroke-width="1"/>
<rect x="513.92" y="511.69" width="12.09" height="9.06" fill="#45289f" stroke="#141414" stroke-width="1"/>
<rect x="529.02" y="520.75" width="12.09" height="0" fill="#45289f" stroke="#141414" stroke-width="1"/>
<rect x="544.13" y="515.23" width="12.09" height="5.52" fill="#45289f" stroke="#141414" stroke-width="1"/>
<rect x="559.24" y="516.99" width="12.09" height="3.76" fill="#45289f" stroke="#141414" stroke-width="1"/>
<rect x="574.34" y="517.88" width="12.09" height="2.87" fill="#45289f" stroke="#141414" stroke-width="1"/>
<rect x="589.45" y="520.75" width="12.09" height="0" fill="#45289f" stroke="#141414" stroke-width="1"/>
<path d="M399.11 517.66V520.09M397.01 517.66h4.2M397.01 520.09h4.2M414.21 509.26V519.64M412.11 509.26h4.2M412.11 519.64h4.2M429.32 519.64V524.06M427.22 519.64h4.2M427.22 524.06h4.2M444.43 514.12V523.4M442.33 514.12h4.2M442.33 523.4h4.2M459.53 518.54V526.5M457.43 518.54h4.2M457.43 526.5h4.2M504.85 518.98V524.06M502.75 518.98h4.2M502.75 524.06h4.2M519.96 504.84V519.64M517.86 504.84h4.2M517.86 519.64h4.2M535.07 515V526.05M532.97 515h4.2M532.97 526.05h4.2M550.17 505.72V524.95M548.07 505.72h4.2M548.07 524.95h4.2M565.28 511.25V522.96M563.18 511.25h4.2M563.18 522.96h4.2M580.39 513.68V522.08M578.29 513.68h4.2M578.29 522.08h4.2" stroke="#4482c4" stroke-width="1.15" fill="none"/>
<path d="M474.64 519.87V521.63M472.54 519.87h4.2M472.54 521.63h4.2M489.75 520.09V521.41M487.65 520.09h4.2M487.65 521.41h4.2M595.49 520.53V520.97M593.39 520.53h4.2M593.39 520.97h4.2" stroke="#2f5a94" stroke-width="1.15" fill="none"/>
<line x1="384" x2="610.6" y1="520.75" y2="520.75" stroke="#141414" stroke-width="1"/>
<rect x="384" y="487.6" width="226.6" height="66.3" fill="none" stroke="#141414" stroke-width="1.2"/>
<path d="M399.11 553.9v-2.4M399.11 487.6v2.4M414.21 553.9v-2.4M414.21 487.6v2.4M429.32 553.9v-2.4M429.32 487.6v2.4M444.43 553.9v-2.4M444.43 487.6v2.4M459.53 553.9v-2.4M459.53 487.6v2.4M474.64 553.9v-2.4M474.64 487.6v2.4M489.75 553.9v-2.4M489.75 487.6v2.4M504.85 553.9v-2.4M504.85 487.6v2.4M519.96 553.9v-2.4M519.96 487.6v2.4M535.07 553.9v-2.4M535.07 487.6v2.4M550.17 553.9v-2.4M550.17 487.6v2.4M565.28 553.9v-2.4M565.28 487.6v2.4M580.39 553.9v-2.4M580.39 487.6v2.4M595.49 553.9v-2.4M595.49 487.6v2.4M384 542.85h2.4M610.6 542.85h-2.4M384 520.75h2.4M610.6 520.75h-2.4M384 498.65h2.4M610.6 498.65h-2.4" stroke="#141414" stroke-width="1.1" fill="none"/>
<text x="374" y="503.75" font-size="13.3" text-anchor="end">1</text>
<text x="374" y="526.35" font-size="13.3" text-anchor="end">0</text>
<text x="374" y="548.75" font-size="13.3" text-anchor="end">-1</text>
<text transform="translate(347.7 520.55) rotate(-90)" font-size="16.8" text-anchor="middle">PC6</text>
<text x="398.9" y="545.7" font-size="11.8">Sparsity = 0.65 ± 0.19</text>
</g>
<g id="pc7">
<rect x="67.53" y="620.4" width="12.11" height="0" fill="#45289f" stroke="#141414" stroke-width="1"/>
<rect x="82.67" y="620.4" width="12.11" height="0" fill="#45289f" stroke="#141414" stroke-width="1"/>
<rect x="97.81" y="616.22" width="12.11" height="4.18" fill="#45289f" stroke="#141414" stroke-width="1"/>
<rect x="112.94" y="620.4" width="12.11" height="0" fill="#45289f" stroke="#141414" stroke-width="1"/>
<rect x="128.08" y="620.4" width="12.11" height="0" fill="#45289f" stroke="#141414" stroke-width="1"/>
<rect x="143.22" y="620.4" width="12.11" height="0" fill="#45289f" stroke="#141414" stroke-width="1"/>
<rect x="158.35" y="620.4" width="12.11" height="0" fill="#45289f" stroke="#141414" stroke-width="1"/>
<rect x="173.49" y="620.4" width="12.11" height="0" fill="#45289f" stroke="#141414" stroke-width="1"/>
<rect x="188.63" y="619.74" width="12.11" height="0.66" fill="#45289f" stroke="#141414" stroke-width="1"/>
<rect x="203.76" y="619.96" width="12.11" height="0.44" fill="#45289f" stroke="#141414" stroke-width="1"/>
<rect x="218.9" y="603.68" width="12.11" height="16.72" fill="#45289f" stroke="#141414" stroke-width="1"/>
<rect x="234.04" y="620.4" width="12.11" height="0.66" fill="#45289f" stroke="#141414" stroke-width="1"/>
<rect x="249.17" y="620.18" width="12.11" height="0.22" fill="#45289f" stroke="#141414" stroke-width="1"/>
<rect x="264.31" y="619.08" width="12.11" height="1.32" fill="#45289f" stroke="#141414" stroke-width="1"/>
<path d="M103.86 608.08V624.8M101.76 608.08h4.2M101.76 624.8h4.2M194.68 618.2V621.72M192.58 618.2h4.2M192.58 621.72h4.2M209.82 619.08V621.72M207.72 619.08h4.2M207.72 621.72h4.2M224.95 594.66V613.58M222.85 594.66h4.2M222.85 613.58h4.2M240.09 620.18V622.16M237.99 620.18h4.2M237.99 622.16h4.2M270.36 613.8V624.36M268.26 613.8h4.2M268.26 624.36h4.2" stroke="#4482c4" stroke-width="1.15" fill="none"/>
<path d="M73.59 620.29V620.51M71.49 620.29h4.2M71.49 620.51h4.2M88.72 620.18V620.62M86.62 620.18h4.2M86.62 620.62h4.2M119 619.96V620.84M116.9 619.96h4.2M116.9 620.84h4.2M134.13 619.96V620.84M132.03 619.96h4.2M132.03 620.84h4.2M149.27 619.74V620.62M147.17 619.74h4.2M147.17 620.62h4.2M164.41 620.4V620.4M162.31 620.4h4.2M162.31 620.4h4.2M179.54 620.4V620.4M177.44 620.4h4.2M177.44 620.4h4.2M255.23 619.96V620.62M253.13 619.96h4.2M253.13 620.62h4.2" stroke="#2f5a94" stroke-width="1.15" fill="none"/>
<line x1="58.45" x2="285.5" y1="620.4" y2="620.4" stroke="#141414" stroke-width="1"/>
<rect x="58.45" y="587.4" width="227.05" height="66" fill="none" stroke="#141414" stroke-width="1.2"/>
<path d="M73.59 653.4v-2.4M73.59 587.4v2.4M88.72 653.4v-2.4M88.72 587.4v2.4M103.86 653.4v-2.4M103.86 587.4v2.4M119 653.4v-2.4M119 587.4v2.4M134.13 653.4v-2.4M134.13 587.4v2.4M149.27 653.4v-2.4M149.27 587.4v2.4M164.41 653.4v-2.4M164.41 587.4v2.4M179.54 653.4v-2.4M179.54 587.4v2.4M194.68 653.4v-2.4M194.68 587.4v2.4M209.82 653.4v-2.4M209.82 587.4v2.4M224.95 653.4v-2.4M224.95 587.4v2.4M240.09 653.4v-2.4M240.09 587.4v2.4M255.23 653.4v-2.4M255.23 587.4v2.4M270.36 653.4v-2.4M270.36 587.4v2.4M58.45 642.4h2.4M285.5 642.4h-2.4M58.45 620.4h2.4M285.5 620.4h-2.4M58.45 598.4h2.4M285.5 598.4h-2.4" stroke="#141414" stroke-width="1.1" fill="none"/>
<text x="48.45" y="602.55" font-size="13.3" text-anchor="end">1</text>
<text x="48.45" y="625.95" font-size="13.3" text-anchor="end">0</text>
<text x="48.45" y="648.15" font-size="13.3" text-anchor="end">-1</text>
<text transform="translate(19 621) rotate(-90)" font-size="16.8" text-anchor="middle">PC7</text>
<text x="73.35" y="645.2" font-size="11.8">Sparsity = 0.91 ± 0.06</text>
<text transform="translate(78.69 684.5) rotate(-90) scale(0.83 1)" font-size="13.2">He</text>
<text transform="translate(93.82 684.5) rotate(-90) scale(0.83 1)" font-size="13.2">Tr</text>
<text transform="translate(108.96 684.5) rotate(-90) scale(0.83 1)" font-size="13.2">LUA</text>
<text transform="translate(124.1 684.5) rotate(-90) scale(0.83 1)" font-size="13.2">LFA</text>
<text transform="translate(139.23 684.5) rotate(-90) scale(0.83 1)" font-size="13.2">LH</text>
<text transform="translate(154.37 684.5) rotate(-90) scale(0.83 1)" font-size="13.2">RUA</text>
<text transform="translate(169.51 684.5) rotate(-90) scale(0.83 1)" font-size="13.2">RFA</text>
<text transform="translate(184.64 684.5) rotate(-90) scale(0.83 1)" font-size="13.2">RH</text>
<text transform="translate(199.78 684.5) rotate(-90) scale(0.83 1)" font-size="13.2">LT</text>
<text transform="translate(214.92 684.5) rotate(-90) scale(0.83 1)" font-size="13.2">LS</text>
<text transform="translate(230.05 684.5) rotate(-90) scale(0.83 1)" font-size="13.2">LF</text>
<text transform="translate(245.19 684.5) rotate(-90) scale(0.83 1)" font-size="13.2">RT</text>
<text transform="translate(260.33 684.5) rotate(-90) scale(0.83 1)" font-size="13.2">RS</text>
<text transform="translate(275.46 684.5) rotate(-90) scale(0.83 1)" font-size="13.2">RF</text>
</g>
<g id="pc8">
<rect x="393.06" y="620.5" width="12.09" height="0" fill="#45289f" stroke="#141414" stroke-width="1"/>
<rect x="408.17" y="620.5" width="12.09" height="0" fill="#45289f" stroke="#141414" stroke-width="1"/>
<rect x="423.28" y="620.5" width="12.09" height="0" fill="#45289f" stroke="#141414" stroke-width="1"/>
<rect x="438.38" y="620.5" width="12.09" height="0" fill="#45289f" stroke="#141414" stroke-width="1"/>
<rect x="453.49" y="620.5" width="12.09" height="0" fill="#45289f" stroke="#141414" stroke-width="1"/>
<rect x="468.6" y="620.5" width="12.09" height="0" fill="#45289f" stroke="#141414" stroke-width="1"/>
<rect x="483.7" y="620.5" width="12.09" height="0" fill="#45289f" stroke="#141414" stroke-width="1"/>
<rect x="498.81" y="620.5" width="12.09" height="0" fill="#45289f" stroke="#141414" stroke-width="1"/>
<rect x="513.92" y="620.5" width="12.09" height="0" fill="#45289f" stroke="#141414" stroke-width="1"/>
<rect x="529.02" y="620.5" width="12.09" height="0" fill="#45289f" stroke="#141414" stroke-width="1"/>
<rect x="544.13" y="620.5" width="12.09" height="0" fill="#45289f" stroke="#141414" stroke-width="1"/>
<rect x="559.24" y="620.5" width="12.09" height="0.66" fill="#45289f" stroke="#141414" stroke-width="1"/>
<rect x="574.34" y="618.96" width="12.09" height="1.54" fill="#45289f" stroke="#141414" stroke-width="1"/>
<rect x="589.45" y="599.88" width="12.09" height="20.62" fill="#45289f" stroke="#141414" stroke-width="1"/>
<path d="M565.28 620.06V622.25M563.18 620.06h4.2M563.18 622.25h4.2M580.39 613.92V623.79M578.29 613.92h4.2M578.29 623.79h4.2M595.49 595.06V605.8M593.39 595.06h4.2M593.39 605.8h4.2" stroke="#4482c4" stroke-width="1.15" fill="none"/>
<path d="M399.11 620.28V620.72M397.01 620.28h4.2M397.01 620.72h4.2M414.21 620.06V620.5M412.11 620.06h4.2M412.11 620.5h4.2M429.32 620.06V620.94M427.22 620.06h4.2M427.22 620.94h4.2M444.43 619.84V621.16M442.33 619.84h4.2M442.33 621.16h4.2M459.53 619.84V620.72M457.43 619.84h4.2M457.43 620.72h4.2M474.64 620.06V620.94M472.54 620.06h4.2M472.54 620.94h4.2M489.75 620.06V620.94M487.65 620.06h4.2M487.65 620.94h4.2M504.85 620.28V620.72M502.75 620.28h4.2M502.75 620.72h4.2M519.96 620.28V620.72M517.86 620.28h4.2M517.86 620.72h4.2M535.07 620.5V620.5M532.97 620.5h4.2M532.97 620.5h4.2M550.17 620.28V620.72M548.07 620.28h4.2M548.07 620.72h4.2" stroke="#2f5a94" stroke-width="1.15" fill="none"/>
<line x1="384" x2="610.6" y1="620.5" y2="620.5" stroke="#141414" stroke-width="1"/>
<rect x="384" y="587.6" width="226.6" height="65.8" fill="none" stroke="#141414" stroke-width="1.2"/>
<path d="M399.11 653.4v-2.4M399.11 587.6v2.4M414.21 653.4v-2.4M414.21 587.6v2.4M429.32 653.4v-2.4M429.32 587.6v2.4M444.43 653.4v-2.4M444.43 587.6v2.4M459.53 653.4v-2.4M459.53 587.6v2.4M474.64 653.4v-2.4M474.64 587.6v2.4M489.75 653.4v-2.4M489.75 587.6v2.4M504.85 653.4v-2.4M504.85 587.6v2.4M519.96 653.4v-2.4M519.96 587.6v2.4M535.07 653.4v-2.4M535.07 587.6v2.4M550.17 653.4v-2.4M550.17 587.6v2.4M565.28 653.4v-2.4M565.28 587.6v2.4M580.39 653.4v-2.4M580.39 587.6v2.4M595.49 653.4v-2.4M595.49 587.6v2.4M384 642.43h2.4M610.6 642.43h-2.4M384 620.5h2.4M610.6 620.5h-2.4M384 598.57h2.4M610.6 598.57h-2.4" stroke="#141414" stroke-width="1.1" fill="none"/>
<text x="374" y="602.95" font-size="13.3" text-anchor="end">1</text>
<text x="374" y="625.95" font-size="13.3" text-anchor="end">0</text>
<text x="374" y="647.55" font-size="13.3" text-anchor="end">-1</text>
<text transform="translate(347.7 621.1) rotate(-90)" font-size="16.8" text-anchor="middle">PC8</text>
<text x="398.9" y="645.2" font-size="11.8">Sparsity = 0.91 ± 0.07</text>
<text transform="translate(404.21 684.5) rotate(-90) scale(0.83 1)" font-size="13.2">He</text>
<text transform="translate(419.31 684.5) rotate(-90) scale(0.83 1)" font-size="13.2">Tr</text>
<text transform="translate(434.42 684.5) rotate(-90) scale(0.83 1)" font-size="13.2">LUA</text>
<text transform="translate(449.53 684.5) rotate(-90) scale(0.83 1)" font-size="13.2">LFA</text>
<text transform="translate(464.63 684.5) rotate(-90) scale(0.83 1)" font-size="13.2">LH</text>
<text transform="translate(479.74 684.5) rotate(-90) scale(0.83 1)" font-size="13.2">RUA</text>
<text transform="translate(494.85 684.5) rotate(-90) scale(0.83 1)" font-size="13.2">RFA</text>
<text transform="translate(509.95 684.5) rotate(-90) scale(0.83 1)" font-size="13.2">RH</text>
<text transform="translate(525.06 684.5) rotate(-90) scale(0.83 1)" font-size="13.2">LT</text>
<text transform="translate(540.17 684.5) rotate(-90) scale(0.83 1)" font-size="13.2">LS</text>
<text transform="translate(555.27 684.5) rotate(-90) scale(0.83 1)" font-size="13.2">LF</text>
<text transform="translate(570.38 684.5) rotate(-90) scale(0.83 1)" font-size="13.2">RT</text>
<text transform="translate(585.49 684.5) rotate(-90) scale(0.83 1)" font-size="13.2">RS</text>
<text transform="translate(600.59 684.5) rotate(-90) scale(0.83 1)" font-size="13.2">RF</text>
</g>
</g>
<text x="-0.5" y="9.9" font-size="18.7" font-weight="bold" fill="#111">a</text>
<text x="-1.3" y="275.6" font-size="18.9" font-weight="bold" fill="#111">b</text>
<text x="315.6" y="10.1" font-size="18.7" font-weight="bold" fill="#111">c</text>
</svg>
</body>
</html>
